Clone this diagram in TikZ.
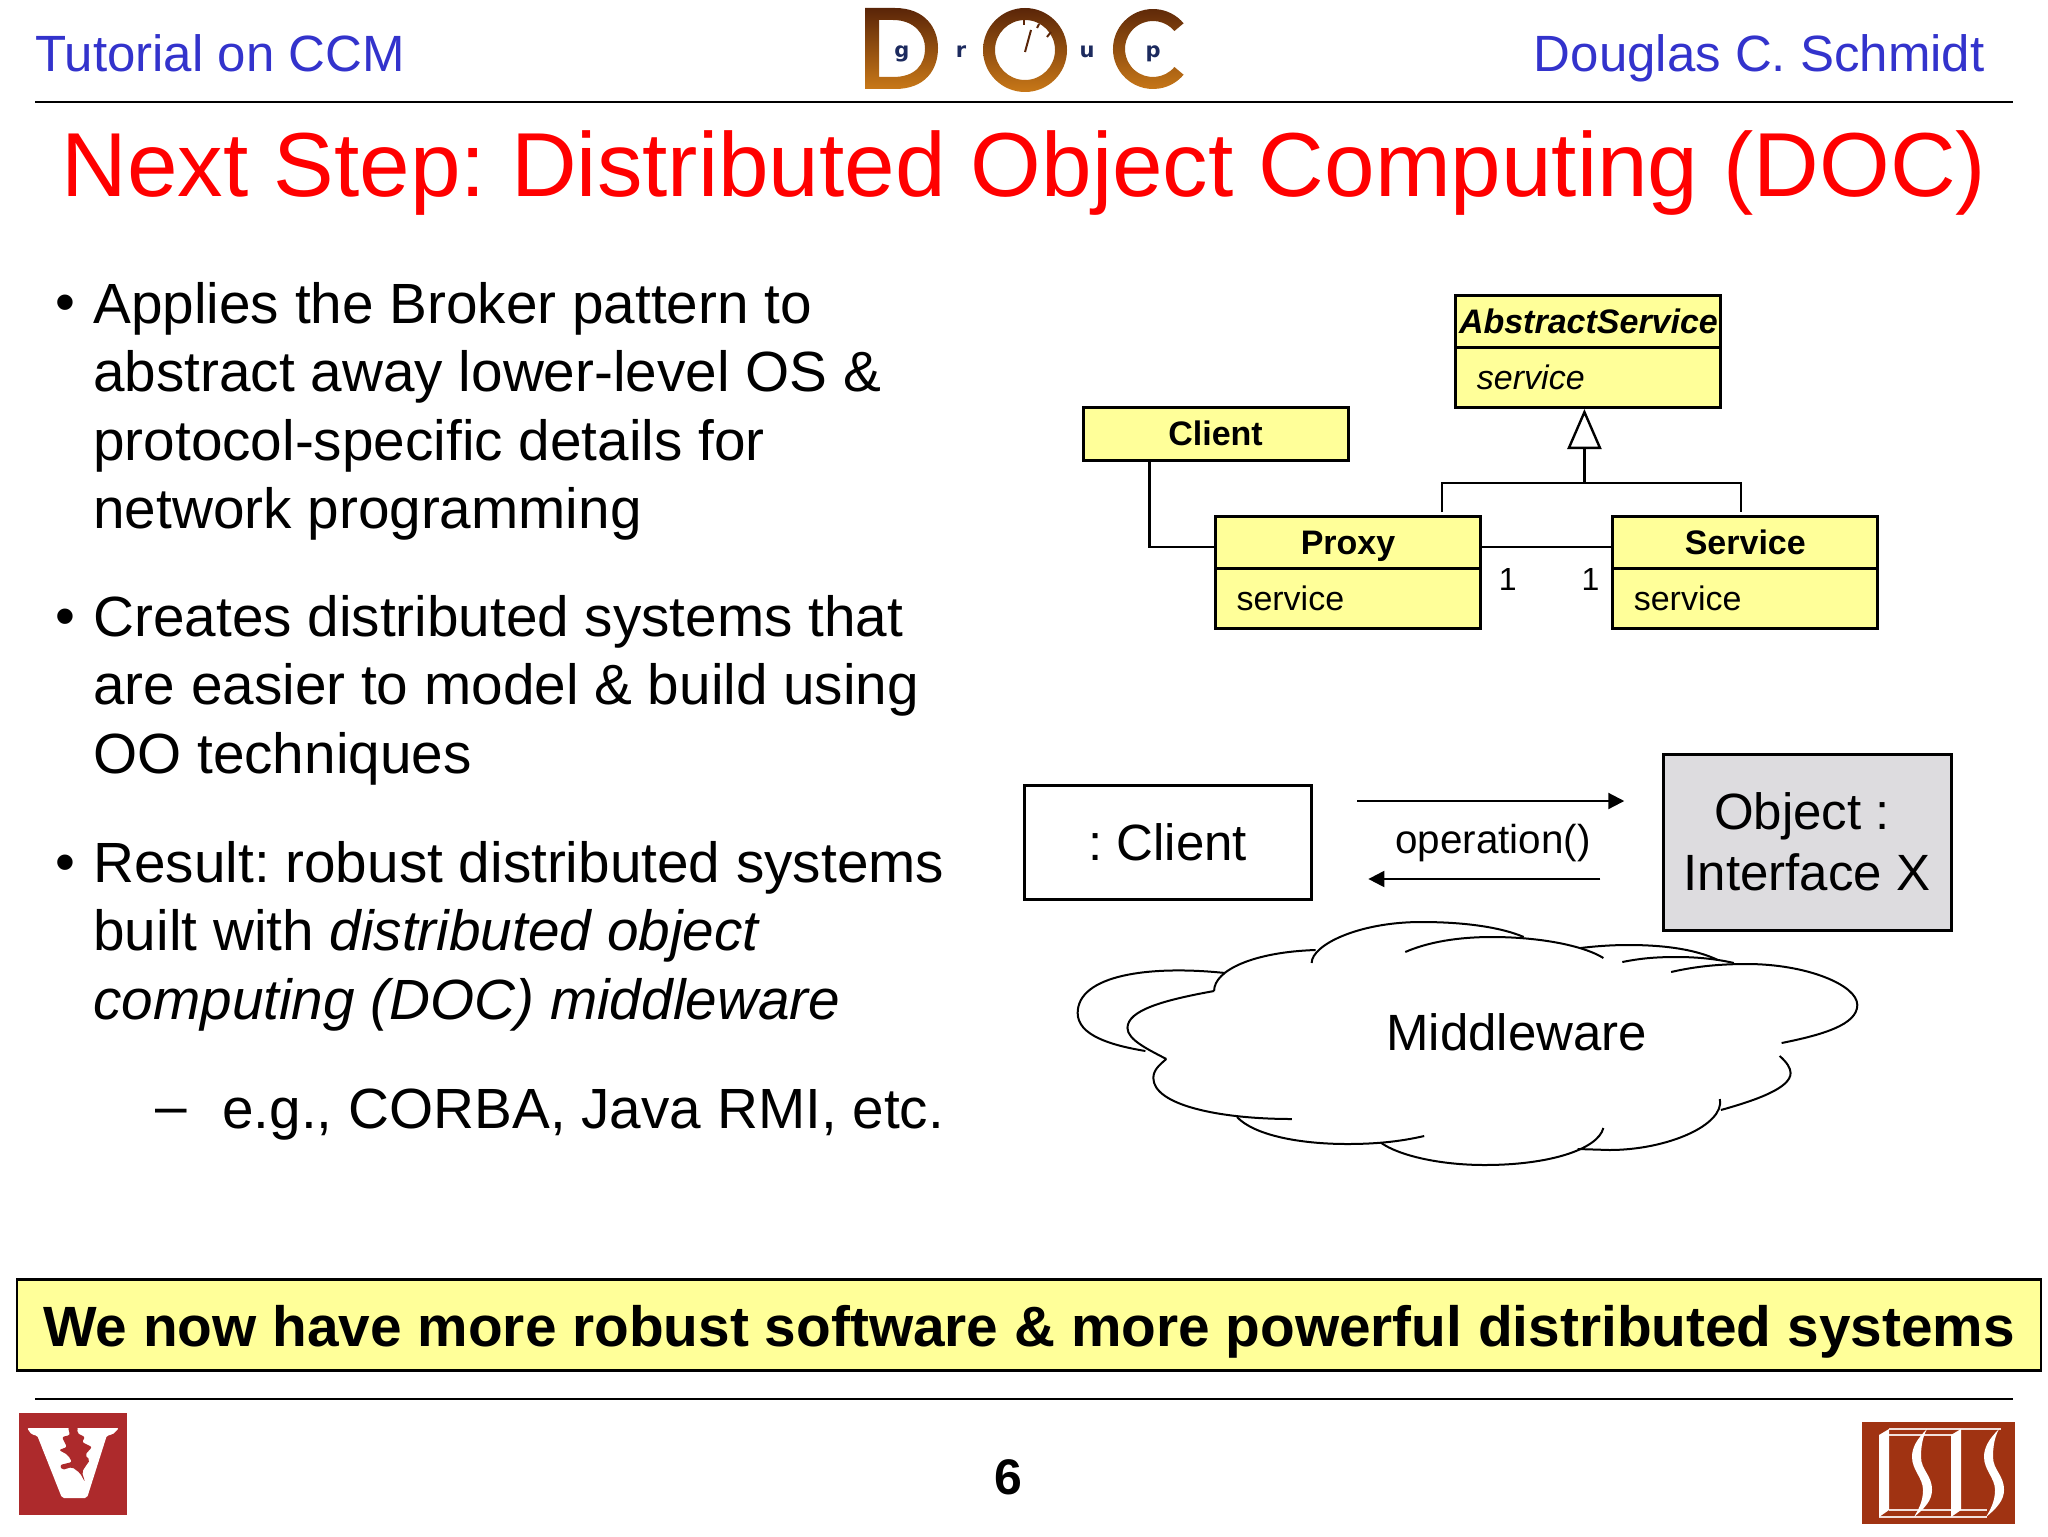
\documentclass[tikz,border=0pt]{standalone}
\usepackage{fontspec}
\setmainfont{Liberation Sans}
\newfontfamily\logofont{DejaVu Sans}
\usetikzlibrary{arrows.meta}
\frenchspacing

\definecolor{umlYellow}{HTML}{FFFF99}
\definecolor{headerBlue}{HTML}{3333CC}
\definecolor{objGray}{HTML}{DDDCDF}
\definecolor{vuRed}{HTML}{AD2A2C}
\definecolor{isisRed}{HTML}{A03312}
\definecolor{logoNavy}{HTML}{1C2A5E}
\definecolor{bronzeDark}{HTML}{5A2508}
\definecolor{bronzeMid}{HTML}{EBA432}
\definecolor{bronzeLow}{HTML}{C87818}

\tikzset{
	classHead/.style={rectangle, draw=black, fill=umlYellow, line width=1.5pt, minimum width=132.5pt, inner sep=0pt, text height=12.2pt, text depth=0pt, font=\fontsize{17}{20}\selectfont\bfseries},
	classBody/.style={rectangle, draw=black, fill=umlYellow, line width=1.5pt, inner xsep=10.5pt, inner ysep=0pt, text width=111.5pt, align=left, font=\fontsize{17}{20}\selectfont},
	umlLine/.style={line width=1.2pt, draw=black},
	roleBox/.style={rectangle, draw=black, line width=1.5pt, inner sep=0pt, font=\fontsize{25.5}{30.5}\selectfont, align=center},
	msgArrow/.style={line width=1.1pt, -{Triangle[length=8pt,width=8pt]}},
	cloudLine/.style={line width=1pt, draw=black},
	bulletText/.style={anchor=north west, inner sep=0pt, align=left, font=\fontsize{28.35}{34.15}\selectfont},
	headerText/.style={inner sep=0pt, text=headerBlue, font=\fontsize{25.5}{30}\selectfont},
	ruleLine/.style={line width=1.2pt, draw=black},
	bronze/.style={even odd rule, top color=bronzeDark, middle color=bronzeMid, bottom color=bronzeLow},
	logoLetter/.style={inner sep=0pt, text=logoNavy, font=\fontsize{10.5}{12}\selectfont\logofont\bfseries}
}

\begin{document}
\begin{tikzpicture}[x=0.5pt, y=-0.5pt]
	\useasboundingbox (0,0) rectangle (2048,1536);

	% header
	\node[headerText, anchor=base west](tutorial) at (35,72){Tutorial on CCM};
	\node[headerText, anchor=base east](author) at (1985,72){Douglas C. Schmidt};
	\coordinate (topRuleL) at (35,102);
	\coordinate (topRuleR) at (2013,102);
	\draw[ruleLine] (topRuleL) -- (topRuleR);
	\node[inner sep=0pt, text=red, font=\fontsize{45.45}{50}\selectfont](title) at (1024,173){Next Step: Distributed Object Computing (DOC)};

	% group logo
	\shade[bronze] (865,8) -- (895,8) .. controls (925,8) and (938,28) .. (938,48) .. controls (938,70) and (925,89) .. (895,89) -- (865,89) -- cycle
		(879,20) -- (893,20) .. controls (915,20) and (925,35) .. (925,48) .. controls (925,65) and (915,77) .. (893,77) -- (879,77) -- cycle;
	\shade[bronze] (1025,50) circle[radius=42] (1025,50) circle[radius=30];
	\shade[bronze] (1183.6,23.3) arc[start angle=-40, end angle=-320, radius=40] -- (1174.4,67) arc[start angle=40, end angle=320, radius=28] -- cycle;
	\draw[line width=1pt, bronzeDark] (1025,52) -- (1031,30);
	\draw[line width=1pt, bronzeDark] (1024,20) -- (1024,25);
	\draw[line width=1pt, bronzeDark] (1039,24) -- (1037,28);
	\draw[line width=1pt, bronzeDark] (1051,32) -- (1047,37);
	\node[logoLetter](logoG) at (902,54){g};
	\node[logoLetter](logoR) at (961,52){r};
	\node[logoLetter](logoU) at (1087,52){u};
	\node[logoLetter](logoP) at (1153,54){p};

	% bullets
	\node[bulletText](dotOne) at (55,295){•};
	\node[bulletText](textOne) at (93,282){Applies the Broker pattern to\\abstract away lower-level OS \&\\protocol-specific details for\\network programming};
	\node[bulletText](dotTwo) at (55,609){•};
	\node[bulletText](textTwo) at (93,595){Creates distributed systems that\\are easier to model \& build using\\OO techniques};
	\node[bulletText](dotThree) at (55,855){•};
	\node[bulletText](textThree) at (93,841){Result: robust distributed systems\\built with \textit{distributed object}\\\textit{computing (DOC) middleware}};
	\node[bulletText](dash) at (155,1109){–};
	\node[bulletText](textFour) at (222,1088){e.g., CORBA, Java RMI, etc.};

	\begin{scope}[xshift=2.15pt, xscale=0.9957]
		% class diagram
		\node[classHead, minimum height=26.5pt](clientHead) at (1216.5,433.5){Client};
		\node[classHead, minimum height=26pt, font=\fontsize{17}{20}\selectfont\bfseries\itshape](abstractHead) at (1591,321.5){AbstractService};
		\node[classBody, minimum height=30pt, font=\fontsize{17}{20}\selectfont\itshape](abstractBody) at (1591,377.5){service};
		\node[classHead, minimum height=26pt](proxyHead) at (1349.5,542){Proxy};
		\node[classBody, minimum height=30pt](proxyBody) at (1349.5,598){service};
		\node[classHead, minimum height=26pt](serviceHead) at (1748.5,542){Service};
		\node[classBody, minimum height=30pt](serviceBody) at (1748.5,598){service};
		\node[inner sep=0pt, font=\fontsize{16}{20}\selectfont](oneLeft) at (1510,579){1};
		\node[inner sep=0pt, font=\fontsize{16}{20}\selectfont](oneRight) at (1593,579){1};

		\coordinate (clientDrop) at (1150,461);
		\coordinate (proxyLeft) at (1216,547);
		\coordinate (proxyRight) at (1483,547);
		\coordinate (serviceLeft) at (1615,547);
		\coordinate (inheritTip) at (1587,409);
		\coordinate (inheritJoin) at (1587,483);
		\coordinate (proxyUp) at (1444,512);
		\coordinate (serviceUp) at (1744,512);

		% draw class edges
		\draw[umlLine] (clientDrop) |- (proxyLeft);
		\draw[umlLine] (proxyRight) -- (serviceLeft);
		\draw[umlLine] (proxyUp) |- (inheritJoin) -| (serviceUp);
		\draw[umlLine, -{Triangle[open, length=20pt, width=17pt]}] (inheritJoin) -- (inheritTip);

		% object diagram
		\node[roleBox, minimum width=143.5pt, minimum height=57pt](clientBox) at (1168.5,842.5){: Client};
		\node[roleBox, fill=objGray, minimum width=144pt, minimum height=88pt](objectBox) at (1810.5,842){Object :\hspace{5pt}\mbox{}\\Interface X};
		\node[inner sep=0pt, font=\fontsize{20.2}{24}\selectfont](opLabel) at (1495,843){operation()};
		\coordinate (callFrom) at (1359,801);
		\coordinate (callTo) at (1627,801);
		\coordinate (backFrom) at (1603,879);
		\coordinate (backTo) at (1370,879);
		\draw[msgArrow] (callFrom) -- (callTo);
		\draw[msgArrow] (backFrom) -- (backTo);

		% middleware cloud
		\draw[cloudLine] (1226,973) .. controls (1150,965) and (1078,975) .. (1078,1013) .. controls (1078,1035) and (1110,1045) .. (1146,1051);
		\draw[cloudLine] (1215,991) .. controls (1165,1000) and (1128,1010) .. (1128,1028) .. controls (1128,1040) and (1150,1050) .. (1167,1059);
		\draw[cloudLine] (1215,991) .. controls (1215,970) and (1255,952) .. (1317,950);
		\draw[cloudLine] (1313,963) .. controls (1313,945) and (1360,922) .. (1423,922) .. controls (1470,922) and (1505,928) .. (1526,937);
		\draw[cloudLine] (1407,952) .. controls (1430,942) and (1460,937) .. (1494,937) .. controls (1540,937) and (1585,945) .. (1606,958);
		\draw[cloudLine] (1583,948) .. controls (1600,946) and (1615,945) .. (1631,945) .. controls (1670,945) and (1700,950) .. (1721,960);
		\draw[cloudLine] (1625,962) .. controls (1645,958) and (1660,957) .. (1680,957) .. controls (1700,957) and (1720,959) .. (1737,963);
		\draw[cloudLine] (1674,972) .. controls (1700,966) and (1725,964) .. (1750,964) .. controls (1810,964) and (1861,985) .. (1861,1005) .. controls (1861,1025) and (1825,1035) .. (1785,1043);
		\draw[cloudLine] (1783,1056) .. controls (1790,1062) and (1794,1068) .. (1794,1073) .. controls (1794,1088) and (1760,1100) .. (1724,1110);
		\draw[cloudLine] (1723,1099) .. controls (1728,1125) and (1670,1150) .. (1612,1150) -- (1580,1149);
		\draw[cloudLine] (1606,1128) .. controls (1600,1150) and (1550,1165) .. (1487,1165) .. controls (1440,1165) and (1400,1155) .. (1383,1143);
		\draw[cloudLine] (1426,1136) .. controls (1400,1142) and (1375,1144) .. (1349,1144) .. controls (1300,1144) and (1255,1135) .. (1238,1117);
		\draw[cloudLine] (1293,1119) .. controls (1220,1119) and (1154,1105) .. (1154,1078) .. controls (1154,1070) and (1160,1065) .. (1167,1059);
		\node[inner sep=0pt, font=\fontsize{25.5}{30}\selectfont](middleware) at (1519,1032){Middleware};
	\end{scope}

	% banner and footer
	\node[rectangle, draw=black, fill=umlYellow, line width=1.2pt, minimum width=1012pt, minimum height=45.5pt, inner sep=0pt, text height=21.5pt, text depth=0pt, font=\fontsize{28.4}{34}\selectfont\bfseries](banner) at (1029,1325){We now have more robust software \& more powerful distributed systems};
	\coordinate (footRuleL) at (35,1399);
	\coordinate (footRuleR) at (2013,1399);
	\draw[ruleLine] (footRuleL) -- (footRuleR);
	\node[inner sep=0pt, font=\fontsize{25}{30}\selectfont\bfseries](pageNum) at (1008,1477){6};

	% left logo
	\fill[vuRed] (19,1413) rectangle (127,1515);
	\fill[white, rounded corners=1pt] (27,1428) -- (119,1428) -- (112,1435) -- (107,1435) -- (87,1498) -- (62,1498) -- (37,1435) -- (32,1435) -- cycle;
	\fill[vuRed, rounded corners=1pt] (68,1427) -- (78,1427) -- (77,1433) -- (85,1437) -- (82,1442) -- (92,1447) -- (85,1455) -- (90,1460) -- (85,1467) -- (82,1472) -- (85,1482) -- (80,1473) -- (72,1467) -- (62,1470) -- (60,1465) -- (72,1462) -- (68,1455) -- (59,1450) -- (67,1447) -- (62,1437) -- (70,1435) -- cycle;

	% right logo
	\fill[isisRed] (1862,1422) rectangle (2015,1524);
	\draw[line width=0.8pt, white!85!isisRed] (1889,1429) -- (2001,1429) (1889,1435) -- (1953,1435) (1889,1510) -- (1987,1510) (1879,1517) -- (1987,1517);
	\foreach \dx in {0,72}{
		\fill[white] (1879+\dx,1435) -- (1889+\dx,1429) -- (1889+\dx,1510) -- (1879+\dx,1517) -- cycle;
		\fill[white] (1927+\dx,1429) .. controls (1916+\dx,1440) and (1912+\dx,1448) .. (1912+\dx,1457) .. controls (1912+\dx,1470) and (1923+\dx,1478) .. (1923+\dx,1490) .. controls (1923+\dx,1502) and (1918+\dx,1510) .. (1914+\dx,1517) .. controls (1925+\dx,1508) and (1932+\dx,1500) .. (1932+\dx,1490) .. controls (1932+\dx,1475) and (1921+\dx,1470) .. (1921+\dx,1457) .. controls (1921+\dx,1448) and (1922+\dx,1438) .. (1927+\dx,1429) -- cycle;
	}
\end{tikzpicture}
\end{document}
